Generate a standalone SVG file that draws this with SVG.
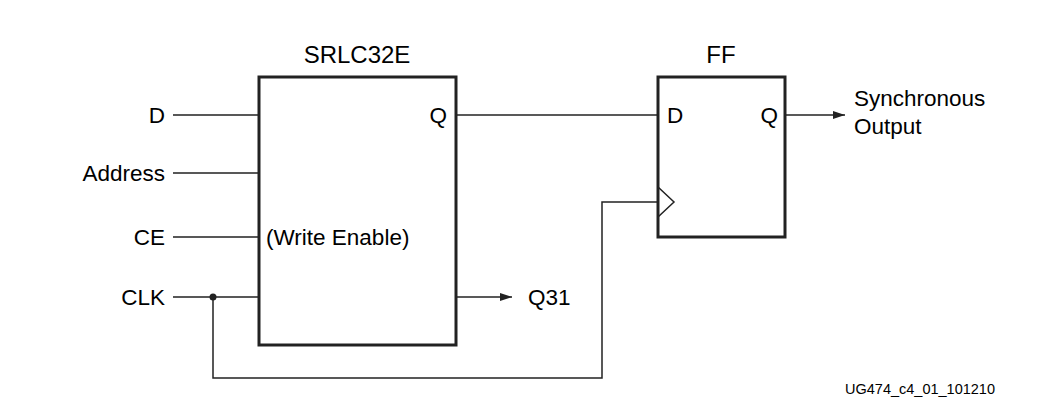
<svg xmlns="http://www.w3.org/2000/svg" width="1045" height="420" viewBox="0 0 1045 420">
<style>
text{font-family:"Liberation Sans",Arial,sans-serif;fill:#000}
.t{font-size:22.5px}.h{font-size:24px}.s{font-size:14.5px}
.b{fill:#fff;stroke:#222;stroke-width:3}
.w{fill:none;stroke:#222;stroke-width:1.5}
</style>
<defs><marker id="a" markerWidth="12" markerHeight="8" refX="12" refY="4" orient="auto" markerUnits="userSpaceOnUse"><path d="M0,0 L12,4 L0,8z" fill="#222"/></marker></defs>
<rect width="1045" height="420" fill="#fff"/>
<g id="connectors">
<path class="w" d="M173,115H259M173,173H259M173,237H259M173,297H259"/>
<path class="w" d="M213,297V378H602V202H658"/>
<circle cx="213" cy="297" r="3.5" fill="#222"/>
<path class="w" d="M456,297H512" marker-end="url(#a)"/>
<path class="w" d="M456,115H658"/>
<path class="w" d="M785,115H845" marker-end="url(#a)"/>
</g>
<g id="srl">
<rect class="b" x="259" y="77" width="197" height="268"/>
<text class="h" x="357" y="63" text-anchor="middle">SRLC32E</text>
<text class="t" x="447" y="123" text-anchor="end">Q</text>
<text class="t" x="266" y="245">(Write Enable)</text>
</g>
<g id="ff">
<rect class="b" x="658" y="77" width="127" height="160"/>
<path class="w" d="M658,187L674,202L658,217"/>
<text class="h" x="721" y="63" text-anchor="middle">FF</text>
<text class="t" x="667" y="123">D</text>
<text class="t" x="778" y="123" text-anchor="end">Q</text>
</g>
<g id="labels">
<text class="t" x="165" y="123" text-anchor="end">D</text>
<text class="t" x="165" y="181" text-anchor="end">Address</text>
<text class="t" x="165" y="245" text-anchor="end">CE</text>
<text class="t" x="165" y="305" text-anchor="end">CLK</text>
<text class="t" x="528" y="305">Q31</text>
<text class="t" x="854" y="106">Synchronous</text>
<text class="t" x="854" y="134">Output</text>
<text class="s" x="995" y="394" text-anchor="end">UG474_c4_01_101210</text>
</g>
</svg>
